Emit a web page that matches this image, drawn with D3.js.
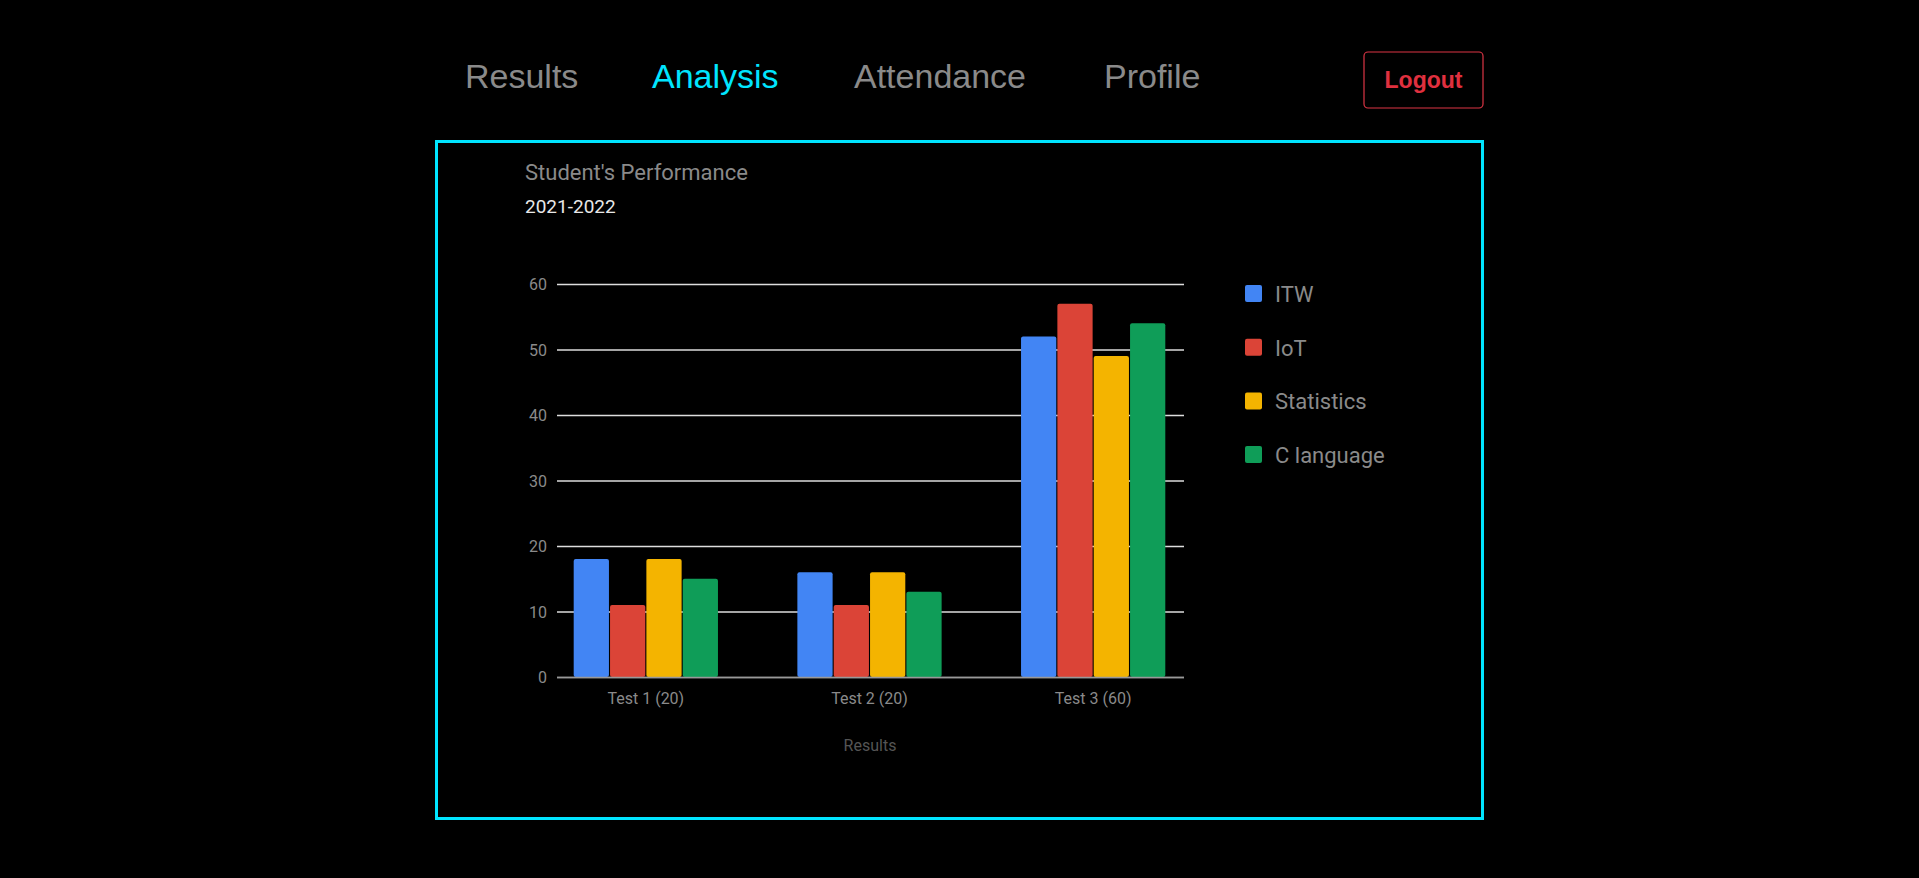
<!DOCTYPE html>
<html><head><meta charset="utf-8">
<script src="https://cdn.jsdelivr.net/npm/d3@7"></script>
<style>
body{margin:0;background:#000;overflow:hidden;}
svg{display:block;}
</style></head><body>
<svg id="c" width="1919" height="878"></svg>
<script>
const navItems = ["Results","Analysis","Attendance","Profile"];
const categories = ["Test 1 (20)","Test 2 (20)","Test 3 (60)"];
const seriesNames = ["ITW","IoT","Statistics","C language"];
const seriesColors = ["#4285f4","#db4437","#f4b400","#0f9d58"];
const itw = [18,16,52];
const iot = [11,11,57];
const statistics = [18,16,49];
const clang = [15,13,54];
const yTicks = [0,10,20,30,40,50,60];
const values = [itw, iot, statistics, clang];

const svg = d3.select("#c");
const navX = [465,652,854,1104];
svg.selectAll("text.nav").data(navItems).join("text")
  .attr("x",(d,i)=>navX[i]).attr("y",88)
  .attr("font-family","Liberation Sans, Arial").attr("font-size",34)
  .attr("fill",(d)=>d==="Analysis"?"#00e5ff":"#8a8a8a").text(d=>d);
svg.append("rect").attr("x",1364).attr("y",52).attr("width",119).attr("height",56).attr("rx",4)
  .attr("fill","none").attr("stroke","#dc3545").attr("stroke-width",1.2);
svg.append("text").attr("x",1423.5).attr("y",88).attr("text-anchor","middle")
  .attr("font-family","Liberation Sans, Arial").attr("font-weight","bold").attr("font-size",23)
  .attr("fill","#e0303f").text("Logout");
svg.append("rect").attr("x",436.5).attr("y",141.5).attr("width",1046).attr("height",677)
  .attr("fill","none").attr("stroke","#00e5ff").attr("stroke-width",3);

const ff="Roboto, Arial";
svg.append("text").attr("x",525).attr("y",180).attr("font-family",ff).attr("font-size",22).attr("fill","#8a8a8a").text("Student's Performance");
svg.append("text").attr("x",525).attr("y",213).attr("font-family",ff).attr("font-size",19).attr("fill","#e8e8e8").text("2021-2022");

const y = d3.scaleLinear().domain([0,60]).range([677,284]);
const x0 = d3.scaleBand().domain(categories).range([534,1205]).paddingInner(0.355).paddingOuter(0.1775);
const x1 = d3.scaleBand().domain(seriesNames).range([0,x0.bandwidth()]).paddingInner(0.03);

const g = svg.append("g");
g.selectAll("line.grid").data(yTicks).join("line")
  .attr("x1",557).attr("x2",1184).attr("y1",d=>y(d)+0.5).attr("y2",d=>y(d)+0.5)
  .attr("stroke",d=>d===0?"#999":"#ddd").attr("stroke-width",1.3);
g.selectAll("text.yl").data(yTicks).join("text")
  .attr("x",547).attr("y",d=>y(d)+6).attr("text-anchor","end")
  .attr("font-family",ff).attr("font-size",16).attr("fill","#8a8a8a").text(d=>d);

seriesNames.forEach((s,si)=>{
  g.selectAll("rect.s"+si).data(categories).join("rect")
    .attr("x",c=>x0(c)+x1(s)).attr("width",x1.bandwidth())
    .attr("y",(c,ci)=>y(values[si][ci])).attr("height",(c,ci)=>y(0)-y(values[si][ci]))
    .attr("rx",2).attr("fill",seriesColors[si]);
});
g.append("line").attr("x1",557).attr("x2",1184).attr("y1",677.5).attr("y2",677.5).attr("stroke","#999").attr("stroke-width",1.3);
g.selectAll("text.xl").data(categories).join("text")
  .attr("x",c=>x0(c)+x0.bandwidth()/2).attr("y",704).attr("text-anchor","middle")
  .attr("font-family",ff).attr("font-size",16).attr("fill","#8a8a8a").text(d=>d);
svg.append("text").attr("x",870).attr("y",751).attr("text-anchor","middle")
  .attr("font-family",ff).attr("font-size",16).attr("fill","#555").text("Results");

const lg = svg.append("g");
seriesNames.forEach((s,i)=>{
  const yy = 294 + i*53.7;
  lg.append("rect").attr("x",1245).attr("y",yy-9).attr("width",17).attr("height",17).attr("rx",2).attr("fill",seriesColors[i]);
  lg.append("text").attr("x",1275).attr("y",yy+8).attr("font-family",ff).attr("font-size",22).attr("fill","#8a8a8a").text(s);
});
</script></body></html>
